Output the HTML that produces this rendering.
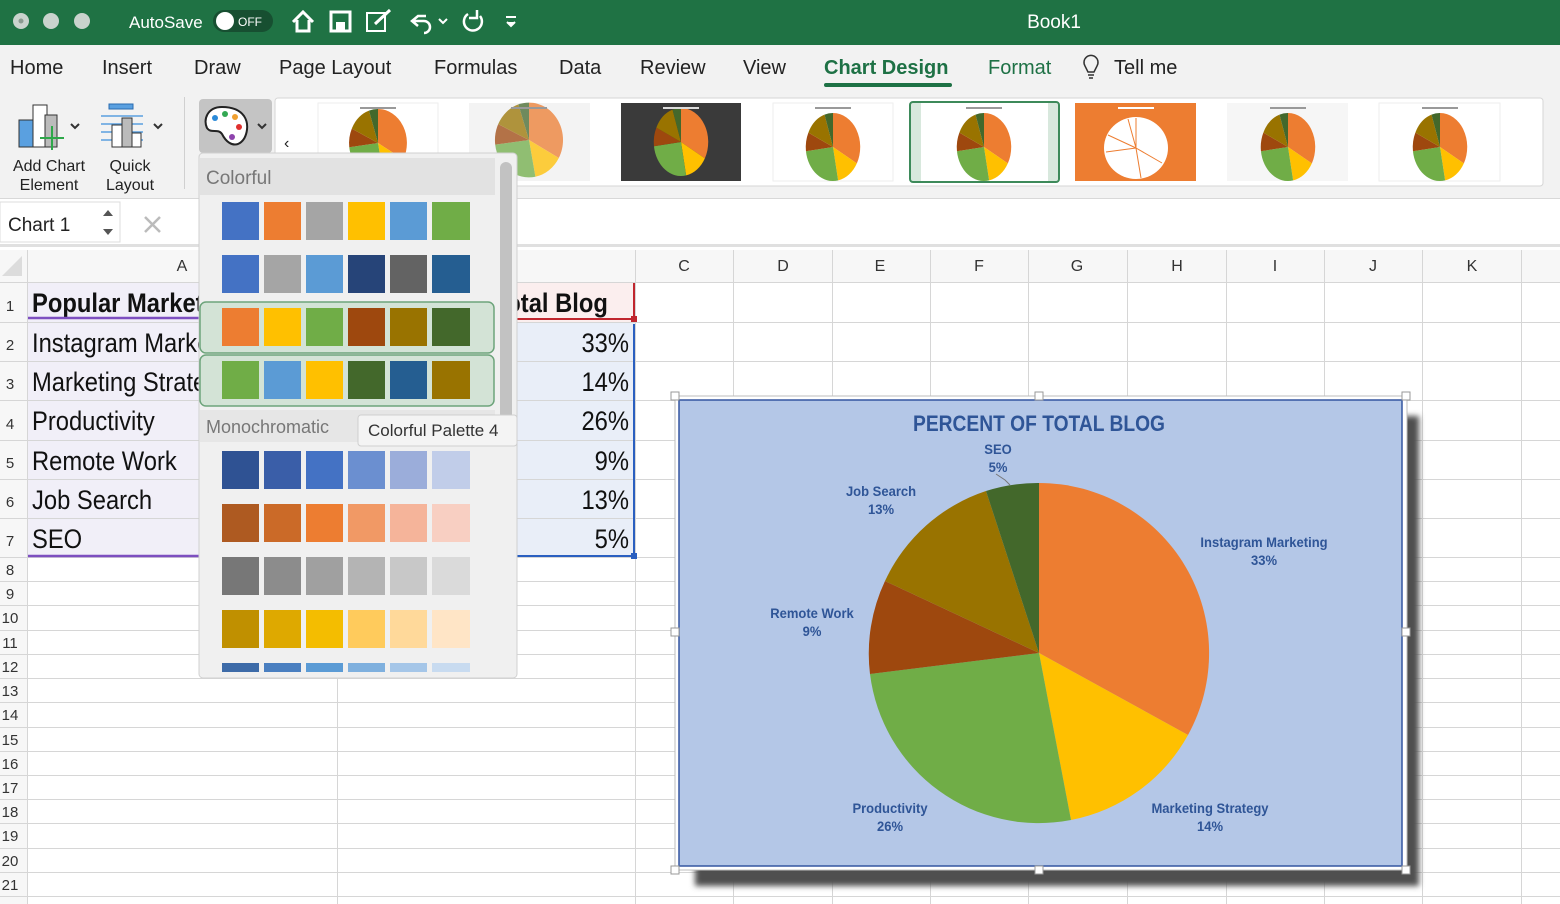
<!DOCTYPE html>
<html><head><meta charset="utf-8"><style>
html,body{margin:0;padding:0;width:1560px;height:904px;overflow:hidden;background:#fff}
svg{display:block}
text{font-family:"Liberation Sans",sans-serif}
.n{font-family:"Liberation Sans Narrow","Liberation Sans",sans-serif}
</style></head><body>
<svg width="1560" height="904" viewBox="0 0 1560 904" xmlns="http://www.w3.org/2000/svg">
<defs>
<g id="pie">
<path d="M1039,653 L1039,483 A170,170 0 0 1 1188,735 Z" fill="#ed7d31"/>
<path d="M1039,653 L1188,735 A170,170 0 0 1 1071,820 Z" fill="#ffc000"/>
<path d="M1039,653 L1071,820 A170,170 0 0 1 870,674 Z" fill="#70ad47"/>
<path d="M1039,653 L870,674 A170,170 0 0 1 885,581 Z" fill="#9e480e"/>
<path d="M1039,653 L885,581 A170,170 0 0 1 986,491 Z" fill="#997300"/>
<path d="M1039,653 L986,491 A170,170 0 0 1 1039,483 Z" fill="#43682b"/>
</g>
<filter id="blur"><feGaussianBlur stdDeviation="3"/></filter>
</defs>

<!-- title bar -->
<rect x="0" y="0" width="1560" height="45" fill="#1f7244"/>
<circle cx="21" cy="21" r="8" fill="#c9d3cd"/><circle cx="51" cy="21" r="8" fill="#c9d3cd"/><circle cx="82" cy="21" r="8" fill="#c9d3cd"/>
<circle cx="21" cy="21" r="2.5" fill="#8a9a90"/>
<text x="129" y="28" font-size="17" fill="#fff">AutoSave</text>
<rect x="213" y="10" width="60" height="22" rx="11" fill="#174f31"/>
<circle cx="225" cy="21" r="9" fill="#fff"/>
<text x="238" y="26" font-size="12" fill="#fff">OFF</text>
<path d="M293,22 L303,12 L313,22 M297,20 V31 H309 V20" stroke="#fff" stroke-width="3" fill="none"/>
<rect x="331" y="12" width="19" height="19" fill="none" stroke="#fff" stroke-width="3"/><rect x="336" y="22" width="9" height="8" fill="#fff"/>
<rect x="367" y="13" width="18" height="18" fill="none" stroke="#fff" stroke-width="2"/><path d="M375,24 L390,10" stroke="#fff" stroke-width="3"/>
<path d="M426,16 H418 L412,21 L418,26 M412,21 H424 A6,6 0 0 1 424,33" stroke="#fff" stroke-width="2.5" fill="none"/>
<path d="M439,19 L443,23 L447,19" stroke="#fff" stroke-width="2" fill="none"/>
<path d="M468,14 A9,9 0 1 0 480,16 M477,10 V18 H469" stroke="#fff" stroke-width="2.5" fill="none"/>
<path d="M506,17 H516 M507,22 L511,26 L515,22" stroke="#fff" stroke-width="2" fill="#fff"/>
<text x="1054" y="28" font-size="19" fill="#fff" text-anchor="middle">Book1</text>

<!-- tabs + ribbon -->
<rect x="0" y="45" width="1560" height="153" fill="#f2f2f2"/>
<g font-size="20" fill="#222">
<text x="10" y="74">Home</text><text x="102" y="74">Insert</text><text x="194" y="74">Draw</text>
<text x="279" y="74">Page Layout</text><text x="434" y="74">Formulas</text><text x="559" y="74">Data</text>
<text x="640" y="74">Review</text><text x="743" y="74">View</text>
<text x="824" y="74" fill="#1e7145" font-weight="bold">Chart Design</text>
<text x="988" y="74" fill="#1e7145">Format</text>
<text x="1114" y="74">Tell me</text>
</g>
<rect x="824" y="83" width="128" height="4" rx="2" fill="#1e7145"/>
<path d="M1085,66 A7,7 0 1 1 1097,66 L1094,72 H1088 Z M1088,75 H1094 M1089,78 H1093" stroke="#333" stroke-width="1.5" fill="none"/>

<!-- ribbon buttons -->
<rect x="19" y="120" width="16" height="27" fill="#5aa0e0" stroke="#333"/>
<rect x="33" y="105" width="14" height="42" fill="#fff" stroke="#333"/>
<rect x="45" y="115" width="12" height="32" fill="#bbb" stroke="#333"/>
<path d="M52,126 V150 M40,138 H64" stroke="#2ea84a" stroke-width="2"/>
<path d="M71,124 L75,128 L79,124" stroke="#333" stroke-width="2" fill="none"/>
<text x="49" y="171" font-size="16" fill="#222" text-anchor="middle">Add Chart</text>
<text x="49" y="190" font-size="16" fill="#222" text-anchor="middle">Element</text>
<rect x="109" y="104" width="24" height="5" fill="#5aa0e0" stroke="#2b6cb0"/>
<g stroke="#5aa0e0" stroke-width="1.5"><path d="M101,116 H143 M101,124 H143 M101,132 H143 M101,140 H143"/></g>
<rect x="112" y="125" width="10" height="22" fill="#fff" stroke="#333"/><rect x="122" y="118" width="10" height="29" fill="#bbb" stroke="#333"/><rect x="132" y="133" width="9" height="14" fill="#fff" stroke="#333"/>
<path d="M154,124 L158,128 L162,124" stroke="#333" stroke-width="2" fill="none"/>
<text x="130" y="171" font-size="16" fill="#222" text-anchor="middle">Quick</text>
<text x="130" y="190" font-size="16" fill="#222" text-anchor="middle">Layout</text>
<rect x="184" y="97" width="1" height="92" fill="#d0d0d0"/>
<rect x="199" y="99" width="73" height="54" rx="4" fill="#c4c4c4"/>
<path d="M222,107 C207,107 203,120 207,128 C211,134 218,128 222,134 C226,142 232,146 238,144 C247,140 250,125 244,116 C239,109 230,107 222,107 Z" fill="#fff" stroke="#222" stroke-width="2"/>
<circle cx="215" cy="118" r="3" fill="#2b8ad8"/><circle cx="225" cy="114" r="3" fill="#33a853"/><circle cx="235" cy="117" r="3" fill="#f0a030"/><circle cx="239" cy="127" r="3" fill="#e0302e"/><circle cx="232" cy="137" r="3" fill="#8e44ad"/>
<path d="M258,124 L262,128 L266,124" stroke="#333" stroke-width="2" fill="none"/>

<!-- style gallery -->
<rect x="275" y="98" width="1268" height="88" rx="3" fill="#fff" stroke="#d6d6d6"/>
<text x="284" y="148" font-size="16" fill="#222">‹</text>
<rect x="318" y="103" width="120" height="78" fill="#fff" stroke="#eee"/>
<rect x="469" y="103" width="121" height="78" fill="#f3f3f3"/>
<rect x="621" y="103" width="120" height="78" fill="#3a3a3a"/>
<rect x="773" y="103" width="120" height="78" fill="#fff" stroke="#eee"/>
<rect x="910" y="102" width="149" height="80" rx="3" fill="#d8e8dd" stroke="#3d8a5a" stroke-width="2"/>
<rect x="921" y="103" width="127" height="78" fill="#fff"/>
<rect x="1075" y="103" width="121" height="78" fill="#ed7d31"/>
<rect x="1227" y="103" width="121" height="78" fill="#f6f6f6"/>
<rect x="1379" y="103" width="121" height="78" fill="#fff" stroke="#eee"/>
<use href="#pie" transform="translate(378,143) scale(0.17,0.2) translate(-1039,-653)"/>
<use href="#pie" transform="translate(529,140) scale(0.2,0.22) translate(-1039,-653)" opacity="0.75"/>
<use href="#pie" transform="translate(681,142) scale(0.16,0.2) translate(-1039,-653)"/>
<use href="#pie" transform="translate(833,147) scale(0.16,0.2) translate(-1039,-653)"/>
<use href="#pie" transform="translate(984,147) scale(0.16,0.2) translate(-1039,-653)"/>
<ellipse cx="1136" cy="148" rx="32" ry="31" fill="#fff"/>
<path d="M1136,148 L1136,118 M1136,148 L1162,163 M1136,148 L1141,178 M1136,148 L1106,152 M1136,148 L1108,135 M1136,148 L1128,119" stroke="#ed7d31" stroke-width="1"/>
<use href="#pie" transform="translate(1288,147) scale(0.16,0.2) translate(-1039,-653)"/>
<use href="#pie" transform="translate(1440,147) scale(0.16,0.2) translate(-1039,-653)"/>
<g fill="#999"><rect x="360" y="107" width="36" height="2"/><rect x="511" y="107" width="36" height="2"/><rect x="663" y="107" width="36" height="2" fill="#ddd"/><rect x="815" y="107" width="36" height="2"/><rect x="966" y="107" width="36" height="2"/><rect x="1118" y="107" width="36" height="2" fill="#fff"/><rect x="1270" y="107" width="36" height="2"/><rect x="1422" y="107" width="36" height="2"/></g>

<!-- formula bar -->
<rect x="0" y="198" width="1560" height="48" fill="#fff"/>
<rect x="0" y="198" width="1560" height="1" fill="#d8d8d8"/>
<rect x="0" y="202" width="120" height="40" fill="#fff" stroke="#dcdcdc"/>
<text x="8" y="231" font-size="19" fill="#222">Chart 1</text>
<path d="M103,216 L108,210 L113,216 Z M103,229 L108,235 L113,229 Z" fill="#555"/>
<path d="M145,217 L160,232 M160,217 L145,232" stroke="#bbb" stroke-width="2.5"/>
<rect x="0" y="244" width="1560" height="3" fill="#e0e0e0"/>

<!-- grid -->
<rect x="0" y="250" width="1560" height="32" fill="#f7f7f7"/>
<rect x="0" y="250" width="27" height="654" fill="#f7f7f7"/>
<path d="M2,276 L22,256 L22,276 Z" fill="#dcdcdc"/>
<g fill="#333" font-size="16" text-anchor="middle">
<text x="182" y="271">A</text><text x="684" y="271">C</text><text x="783" y="271">D</text><text x="880" y="271">E</text><text x="979" y="271">F</text><text x="1077" y="271">G</text><text x="1177" y="271">H</text><text x="1275" y="271">I</text><text x="1373" y="271">J</text><text x="1472" y="271">K</text>
</g>
<rect x="28" y="283" width="309" height="274" fill="#f1eff8"/>
<rect x="337" y="283" width="298" height="274" fill="#e9eef8"/>
<rect x="337" y="283" width="298" height="39" fill="#fbeeee"/>
<g stroke="#d6d6d6" stroke-width="1">
<path d="M0,282.5 H1560 M0,322.5 H1560 M0,361.5 H1560 M0,400.5 H1560 M0,440.5 H1560 M0,479.5 H1560 M0,518.5 H1560 M0,557.5 H1560 M0,581.5 H1560 M0,605.5 H1560 M0,630.5 H1560 M0,654.5 H1560 M0,678.5 H1560 M0,702.5 H1560 M0,727.5 H1560 M0,751.5 H1560 M0,775.5 H1560 M0,799.5 H1560 M0,823.5 H1560 M0,848.5 H1560 M0,872.5 H1560 M0,896.5 H1560"/>
<path d="M27.5,250 V904 M337.5,250 V904 M635.5,250 V904 M733.5,250 V904 M832.5,250 V904 M930.5,250 V904 M1028.5,250 V904 M1127.5,250 V904 M1226.5,250 V904 M1324.5,250 V904 M1422.5,250 V904 M1521.5,250 V904"/>
</g>
<g fill="#333" font-size="15" text-anchor="middle">
<text x="10" y="311">1</text><text x="10" y="350">2</text><text x="10" y="389">3</text><text x="10" y="429">4</text><text x="10" y="468">5</text><text x="10" y="507">6</text><text x="10" y="546">7</text>
<text x="10" y="575">8</text><text x="10" y="599">9</text><text x="10" y="623">10</text><text x="10" y="648">11</text><text x="10" y="672">12</text><text x="10" y="696">13</text><text x="10" y="720">14</text><text x="10" y="745">15</text><text x="10" y="769">16</text><text x="10" y="793">17</text><text x="10" y="817">18</text><text x="10" y="841">19</text><text x="10" y="866">20</text><text x="10" y="890">21</text>
</g>
<g font-size="27" fill="#111" transform="translate(32,0) scale(0.88,1)">
<text x="0" y="312" font-weight="bold">Popular Marketing</text>
<text x="0" y="352">Instagram Marketing</text>
<text x="0" y="391">Marketing Strategy</text>
<text x="0" y="430">Productivity</text>
<text x="0" y="470">Remote Work</text>
<text x="0" y="509">Job Search</text>
<text x="0" y="548">SEO</text>
</g>
<g font-size="27" fill="#111" transform="translate(629,0) scale(0.88,1)" text-anchor="end">
<text x="-24" y="312" font-weight="bold">Percent of Total Blog</text>
<text x="0" y="352">33%</text><text x="0" y="391">14%</text><text x="0" y="430">26%</text><text x="0" y="470">9%</text><text x="0" y="509">13%</text><text x="0" y="548">5%</text>
</g>
<path d="M28,318 H337 M28,556 H337" stroke="#7d4fc0" stroke-width="2.5"/>
<path d="M337,319 H634 V283" stroke="#c0262e" stroke-width="2" fill="none"/>
<rect x="631" y="316" width="6" height="6" fill="#c0262e"/>
<path d="M634,324 V556 H337" stroke="#2a5fc0" stroke-width="2" fill="none"/>
<rect x="631" y="553" width="6" height="6" fill="#2a5fc0"/>

<!-- dropdown -->
<rect x="199" y="153" width="318" height="525" rx="4" fill="#f0f0f0" stroke="#d0d0d0"/>
<rect x="200" y="158" width="295" height="37" fill="#e2e2e2"/>
<text x="206" y="184" font-size="19" fill="#777">Colorful</text>
<rect x="500" y="162" width="12" height="258" rx="6" fill="#c2c2c2"/>
<rect x="200" y="302" width="294" height="51" rx="6" fill="#d3e3d6" stroke="#6da47b" stroke-width="1.5"/>
<rect x="200" y="355" width="294" height="51" rx="6" fill="#d3e3d6" stroke="#6da47b" stroke-width="1.5"/>
<g>
<rect x="222" y="202" width="37" height="38" fill="#4472c4"/><rect x="264" y="202" width="37" height="38" fill="#ed7d31"/><rect x="306" y="202" width="37" height="38" fill="#a5a5a5"/><rect x="348" y="202" width="37" height="38" fill="#ffc000"/><rect x="390" y="202" width="37" height="38" fill="#5b9bd5"/><rect x="432" y="202" width="38" height="38" fill="#70ad47"/>
<rect x="222" y="255" width="37" height="38" fill="#4472c4"/><rect x="264" y="255" width="37" height="38" fill="#a5a5a5"/><rect x="306" y="255" width="37" height="38" fill="#5b9bd5"/><rect x="348" y="255" width="37" height="38" fill="#264478"/><rect x="390" y="255" width="37" height="38" fill="#636363"/><rect x="432" y="255" width="38" height="38" fill="#255e91"/>
<rect x="222" y="308" width="37" height="38" fill="#ed7d31"/><rect x="264" y="308" width="37" height="38" fill="#ffc000"/><rect x="306" y="308" width="37" height="38" fill="#70ad47"/><rect x="348" y="308" width="37" height="38" fill="#9e480e"/><rect x="390" y="308" width="37" height="38" fill="#997300"/><rect x="432" y="308" width="38" height="38" fill="#43682b"/>
<rect x="222" y="361" width="37" height="38" fill="#70ad47"/><rect x="264" y="361" width="37" height="38" fill="#5b9bd5"/><rect x="306" y="361" width="37" height="38" fill="#ffc000"/><rect x="348" y="361" width="37" height="38" fill="#43682b"/><rect x="390" y="361" width="37" height="38" fill="#255e91"/><rect x="432" y="361" width="38" height="38" fill="#997300"/>
</g>
<rect x="200" y="410" width="295" height="32" fill="#e6e6e6"/>
<text x="206" y="433" font-size="18" fill="#777">Monochromatic</text>
<rect x="358" y="415" width="159" height="31" rx="3" fill="#f4f4f4" stroke="#cfcfcf"/>
<text x="368" y="436" font-size="17" fill="#333">Colorful Palette 4</text>
<g>
<rect x="222" y="451" width="37" height="38" fill="#2f5293"/><rect x="264" y="451" width="37" height="38" fill="#3a5ea8"/><rect x="306" y="451" width="37" height="38" fill="#4472c4"/><rect x="348" y="451" width="37" height="38" fill="#6b8fd0"/><rect x="390" y="451" width="37" height="38" fill="#9badda"/><rect x="432" y="451" width="38" height="38" fill="#c1cde9"/>
<rect x="222" y="504" width="37" height="38" fill="#ae5a21"/><rect x="264" y="504" width="37" height="38" fill="#cb6a28"/><rect x="306" y="504" width="37" height="38" fill="#ed7d31"/><rect x="348" y="504" width="37" height="38" fill="#f19965"/><rect x="390" y="504" width="37" height="38" fill="#f5b49a"/><rect x="432" y="504" width="38" height="38" fill="#f8cfc2"/>
<rect x="222" y="557" width="37" height="38" fill="#777"/><rect x="264" y="557" width="37" height="38" fill="#8c8c8c"/><rect x="306" y="557" width="37" height="38" fill="#a0a0a0"/><rect x="348" y="557" width="37" height="38" fill="#b4b4b4"/><rect x="390" y="557" width="37" height="38" fill="#c8c8c8"/><rect x="432" y="557" width="38" height="38" fill="#dadada"/>
<rect x="222" y="610" width="37" height="38" fill="#c09000"/><rect x="264" y="610" width="37" height="38" fill="#dea900"/><rect x="306" y="610" width="37" height="38" fill="#f4bd00"/><rect x="348" y="610" width="37" height="38" fill="#ffcb5c"/><rect x="390" y="610" width="37" height="38" fill="#ffd99a"/><rect x="432" y="610" width="38" height="38" fill="#ffe5c6"/>
<rect x="222" y="663" width="37" height="9" fill="#3d6ba8"/><rect x="264" y="663" width="37" height="9" fill="#4a7fc0"/><rect x="306" y="663" width="37" height="9" fill="#5b9bd5"/><rect x="348" y="663" width="37" height="9" fill="#7fb0de"/><rect x="390" y="663" width="37" height="9" fill="#a5c6e8"/><rect x="432" y="663" width="38" height="9" fill="#c8dbf0"/>
</g>

<!-- chart -->
<rect x="695" y="416" width="724" height="470" fill="#505050" filter="url(#blur)"/>
<rect x="675" y="396" width="732" height="474" fill="#fff" stroke="#bcbcbc"/>
<rect x="679" y="400" width="723" height="466" fill="#b4c7e7" stroke="#3355a0" stroke-width="1.5"/>
<g fill="#fff" stroke="#999"><rect x="671" y="392" width="8" height="8"/><rect x="1035" y="392" width="8" height="8"/><rect x="1402" y="392" width="8" height="8"/><rect x="671" y="628" width="8" height="8"/><rect x="1402" y="628" width="8" height="8"/><rect x="671" y="866" width="8" height="8"/><rect x="1035" y="866" width="8" height="8"/><rect x="1402" y="866" width="8" height="8"/></g>
<use href="#pie"/>
<text x="913" y="431" font-size="22" font-weight="bold" fill="#2f5597" textLength="252" lengthAdjust="spacingAndGlyphs">PERCENT OF TOTAL BLOG</text>
<path d="M996,474 L1005,480 L1010,485" stroke="#777" fill="none"/>
<g font-size="14" font-weight="bold" fill="#2f5597" text-anchor="middle">
<g transform="translate(998,0) scale(0.93,1)"><text x="0" y="454">SEO</text><text x="0" y="472">5%</text></g>
<g transform="translate(881,0) scale(0.93,1)"><text x="0" y="496">Job Search</text><text x="0" y="514">13%</text></g>
<g transform="translate(1264,0) scale(0.93,1)"><text x="0" y="547">Instagram Marketing</text><text x="0" y="565">33%</text></g>
<g transform="translate(812,0) scale(0.93,1)"><text x="0" y="618">Remote Work</text><text x="0" y="636">9%</text></g>
<g transform="translate(890,0) scale(0.93,1)"><text x="0" y="813">Productivity</text><text x="0" y="831">26%</text></g>
<g transform="translate(1210,0) scale(0.93,1)"><text x="0" y="813">Marketing Strategy</text><text x="0" y="831">14%</text></g>
</g>
</svg>
</body></html>
